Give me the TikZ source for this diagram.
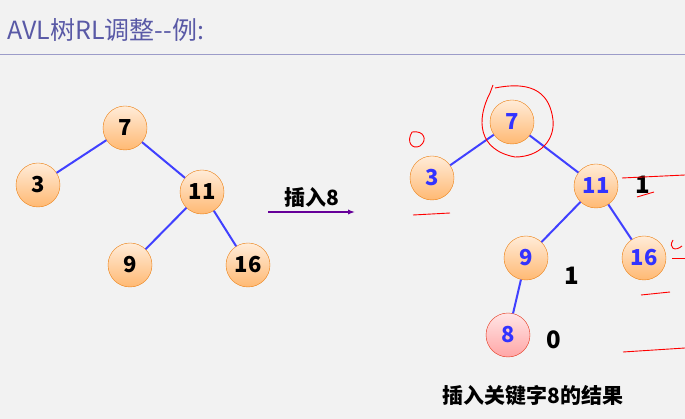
\documentclass[tikz,border=0pt]{standalone}
\usepackage{fontspec}
\setmainfont{Noto Sans CJK SC}
\usetikzlibrary{arrows.meta,positioning,calc}

\begin{document}
\begin{tikzpicture}[x=1pt,y=-1pt,
            key/.style={circle,draw=orange!70!brown,minimum size=44,inner sep=0,
              top color=orange!15,bottom color=orange!55,font=\fontsize{22}{22}\selectfont\bfseries},
            newkey/.style={key,draw=red!60!brown,top color=red!10,bottom color=red!35},
            blue key/.style={text=blue!80!white},
            bf/.style={font=\fontsize{21}{21}\selectfont\bfseries},
            num/.style={font=\fontsize{24}{24}\selectfont\bfseries},
            link/.style={draw=blue!75!white,line width=2pt},
            redmark/.style={draw=red,line width=0.9pt}
          ]
          \useasboundingbox[fill=black!5] (0,0) rectangle (685,419);
          %title
          \node[anchor=west,text=blue!30!gray,font=\fontsize{25}{25}\selectfont] (title) at (4,30) {AVL树RL调整{-}{-}例:};
          \draw[blue!30!gray!60,line width=1pt] (0,55) -- (685,55);

          %left tree
          \node[key] (l7) at (125,128) {7};
          \node[key] (l3) at (38,185) {3};
          \node[key] (l11) at (202,192) {11};
          \node[key] (l9) at (130,265) {9};
          \node[key] (l16) at (248,265) {16};
          \path[link] (l7) -- (l3) (l7) -- (l11) (l11) -- (l9) (l11) -- (l16);

          %arrow
          \coordinate (a1) at (268,212);
          \coordinate (a2) at (355,212);
          \draw[violet!80!blue,line width=2pt,-{Latex[length=7pt]}] (a1) -- (a2);
          \node[bf,above=1pt of $(a1)!0.5!(a2)$] (ins) {插入8};

          %right tree
          \node[key,blue key] (r7) at (512,122) {7};
          \node[key,blue key] (r3) at (432,178) {3};
          \node[key,blue key] (r11) at (596,186) {11};
          \node[key,blue key] (r9) at (526,258) {9};
          \node[key,blue key] (r16) at (644,258) {16};
          \node[newkey,blue key] (r8) at (508,335) {8};
          \path[link] (r7) -- (r3) (r7) -- (r11) (r11) -- (r9) (r11) -- (r16) (r9) -- (r8);

          %balance factors
          \node[num] (b11) at (643,185) {1};
          \node[num] (b9) at (572,276) {1};
          \node[num] (b8) at (554,340) {0};

          %red hand marks
          \draw[redmark] (493,85) -- (490,93) .. controls (476,120) and (478,150) .. (515,157)
            .. controls (540,157) and (555,140) .. (553,120) .. controls (550,95) and (535,80) .. (495,88);
          \draw[redmark] (412,132) .. controls (406,142) and (412,150) .. (420,146) .. controls (428,140) and (424,130) .. (412,132);
          \draw[redmark] (413,215) -- (450,213);
          \draw[redmark] (622,178) -- (685,175);
          \draw[redmark] (637,197) -- (654,192);
          \draw[redmark] (673,240) .. controls (668,248) and (675,252) .. (682,246);
          \draw[redmark] (672,258) -- (685,258);
          \draw[redmark] (641,295) -- (670,292);
          \draw[redmark] (623,352) -- (685,348);

          %caption
          \node[bf] (cap) at (533,396) {插入关键字8的结果};
      \end{tikzpicture}
\end{document}
